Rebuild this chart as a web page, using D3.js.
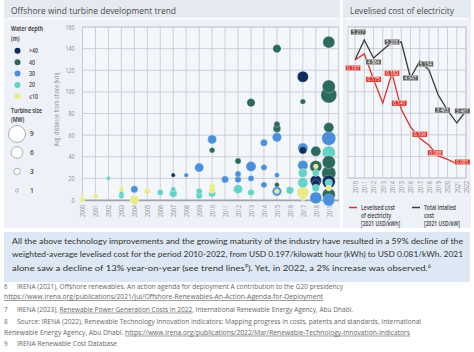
<!DOCTYPE html>
<html>
<head>
<meta charset="utf-8">
<script src="https://cdn.jsdelivr.net/npm/d3@7"></script>
<style>
body { margin: 0; background: #fff; }
svg { display: block; font-family: "Open Sans", sans-serif; }
</style>
</head>
<body>
<script>
// ---- data ----
const years = [2000, 2001, 2002, 2003, 2004, 2005, 2006, 2007, 2008, 2009,
    2010, 2011, 2012, 2013, 2014, 2015, 2016, 2017, 2018, 2019]
const distTicks = [0, 20, 40, 60, 80, 100, 120, 140, 160]
const depthClasses = [">40", "40", "30", "20", "≤10"]
const depthColors = ["#0c2f60", "#2c6a5e", "#4a8fdc", "#63d3c7", "#e8eb88"]
const sizeLegend = [9, 6, 3, 1]

// [year, avg. distance from shore (km), water depth class, turbine size (MW)]
const turbines = [
    [2000, 0, "≤10", 2.1], [2000, 4, "≤10", 1.2], [2001, 3.5, "≤10", 2.1],
    [2002, 20, "20", 1.6],
    [2003, 10, "≤10", 2.1], [2003, 6, "20", 1.8], [2003, 4, "20", 2.4],
    [2004, 10, "30", 3.3], [2004, 0, "≤10", 4.4],
    [2005, 8, "≤10", 2.7], [2006, 7, "20", 2.7],
    [2007, 23, ">40", 1.6], [2007, 10, "20", 2.1], [2007, 6, "20", 3.6],
    [2008, 23, "30", 1.8],
    [2009, 30, "30", 4.4], [2009, 8, "20", 2.7], [2009, 4, "20", 2.9],
    [2010, 56, "30", 4.4], [2010, 46, "40", 2.4], [2010, 12, "≤10", 2.9], [2010, 9, "≤10", 2.9], [2010, 6, "20", 3.3],
    [2011, 19, "30", 3.3],
    [2012, 36, "40", 2.7], [2012, 24, "30", 2.7], [2012, 19, "30", 2.9], [2012, 10, "20", 4.4],
    [2013, 90, "40", 4.0], [2013, 31, "30", 5.0], [2013, 20, "30", 2.7], [2013, 7, "20", 2.9],
    [2014, 53, "30", 3.3], [2014, 30, "30", 2.7], [2014, 14, "30", 2.7],
    [2015, 140, "40", 4.0], [2015, 70, "40", 2.7], [2015, 66, "40", 3.6], [2015, 58, "30", 4.6],
    [2015, 23, "30", 2.1], [2015, 14, "40", 2.1], [2015, 8, "30", 4.6], [2015, 8, "≤10", 2.1],
    [2016, 9, "20", 3.6],
    [2017, 114, ">40", 5.6], [2017, 91, "40", 2.4], [2017, 48, "30", 5.0], [2017, 46, ">40", 3.6],
    [2017, 32, "30", 5.0], [2017, 25, "20", 4.4], [2017, 16, "20", 5.0], [2017, 7, "≤10", 6.1], [2017, 2, "≤10", 2.7],
    [2018, 45, "40", 5.0], [2018, 31, "40", 6.1], [2018, 31, "≤10", 2.1], [2018, 25, "20", 3.3],
    [2018, 18, ">40", 5.6], [2018, 15, ">40", 4.0], [2018, 11, "20", 3.6], [2018, 2, "30", 6.1],
    [2019, 146, "40", 6.1], [2019, 105, "40", 6.7], [2019, 97, "40", 8.4], [2019, 67, "40", 5.0],
    [2019, 57, "30", 7.3], [2019, 44, "20", 6.7], [2019, 35, "40", 6.7], [2019, 25, "40", 7.3],
    [2019, 17, ">40", 6.7], [2019, 16, "20", 3.6], [2019, 11, "≤10", 2.7], [2019, 5, "40", 6.7], [2019, 0, "30", 6.1]
]

const costYears = [2010, 2011, 2012, 2013, 2014, 2015, 2016, 2017, 2018, 2019, 2020, 2021, 2022]
const lcoe = [0.197, 0.204, 0.175, 0.148, 0.182, 0.141, 0.121, 0.108, 0.100, 0.088, 0.084, 0.079, 0.081]
const installedCost = [4722, 5217, 4772, 4970, 5168, 5168, 4277, 4698, 4475, 3857, 3483, 3164, 3461]
const lcoeLabels = [[2010, "0.197"], [2012, "0.175"], [2014, "0.182"], [2015, "0.141"], [2017, "0.106"], [2019, "0.088"], [2022, "0.081"]]
const costLabels = [[2011, "5 217"], [2012, "4 884"], [2014, "5 208"], [2016, "4 647"], [2017, "5 134"], [2020, "3 483"], [2022, "3 461"]]

const paragraph = [
    [["All the above technology improvements and the growing maturity of the industry have resulted in a 59% decline of the"]],
    [["weighted-average levelised cost for the period 2010-2022, from USD 0.197/kilowatt hour (kWh) to USD 0.081/kWh. 2021"]],
    [["alone saw a decline of 13% year-on-year (see trend lines"], ["9", "sup"], ["). Yet, in 2022, a 2% increase was observed."], ["6", "sup"]]
]
const footnotes = [
    ["6", [["IRENA (2021), Offshore renewables. An action agenda for deployment A contribution to the G20 presidency"]]],
    ["", [["https://www.irena.org/publications/2021/Jul/Offshore-Renewables-An-Action-Agenda-for-Deployment", "u"]]],
    ["7", [["IRENA (2023), "], ["Renewable Power Generation Costs in 2022", "u"], [", International Renewable Energy Agency, Abu Dhabi."]]],
    ["8", [["Source: IRENA (2022), Renewable Technology Innovation Indicators: Mapping progress in costs, patents and standards, International"]]],
    ["", [["Renewable Energy Agency, Abu Dhabi. "], ["https://www.irena.org/publications/2022/Mar/Renewable-Technology-Innovation-Indicators", "u"]]],
    ["9", [["IRENA Renewable Cost Database"]]]
]

// ---- drawing ----
const W = 474, H = 352
const svg = d3.select("body").append("svg").attr("width", W).attr("height", H)

const fit = (sel, w) => sel.attr("textLength", w).attr("lengthAdjust", "spacingAndGlyphs")
const squeeze = (sel, k) => sel.each(function () {
    const l = this.getComputedTextLength()
    d3.select(this).attr("textLength", l * k).attr("lengthAdjust", "spacingAndGlyphs")
})

// panels
const panels = [{x: 4, w: 336, title: "Offshore wind turbine development trend", tw: 165},
    {x: 343, w: 128, title: "Levelised cost of electricity", tw: 104}]
panels.forEach(p => {
    svg.append("rect").attr("x", p.x).attr("y", 0).attr("width", p.w).attr("height", 228).attr("fill", "#eef2f8")
    svg.append("rect").attr("x", p.x).attr("y", 0).attr("width", p.w).attr("height", 18).attr("fill", "#e5eaf1")
    svg.append("line").attr("x1", p.x + 3).attr("x2", p.x + p.w - 3).attr("y1", 18.5).attr("y2", 18.5)
        .attr("stroke", "#fff").attr("stroke-width", 1.5)
    svg.append("text").attr("x", p.x + 7).attr("y", 14).attr("font-size", 9.5).attr("fill", "#4d4d4d")
        .text(p.title).call(fit, p.tw)
})

// ===== left chart =====
const xL = d3.scaleLinear().domain([2000, 2019.75]).range([82.5, 338.5])
const yL = d3.scaleLinear().domain([0, 160]).range([200, 27])
const rL = d3.scaleLinear().domain([1, 9]).range([1.5, 8.5])
const color = d3.scaleOrdinal().domain(depthClasses).range(depthColors)

const gL = svg.append("g")
gL.append("rect").attr("x", xL(2000)).attr("y", yL(160)).attr("width", xL(2019.75) - xL(2000))
    .attr("height", yL(0) - yL(160)).attr("fill", "#f3f6fa").attr("stroke", "#c3c8cf").attr("stroke-width", 0.8)
gL.selectAll(".hgrid").data(distTicks).join("line").attr("class", "hgrid")
    .attr("x1", xL(2000)).attr("x2", xL(2019.75)).attr("y1", d => yL(d)).attr("y2", d => yL(d))
    .attr("stroke", "#c3c8cf").attr("stroke-width", 0.8)
gL.selectAll(".vgrid").data(years).join("line").attr("class", "vgrid")
    .attr("x1", d => xL(d)).attr("x2", d => xL(d)).attr("y1", yL(160)).attr("y2", yL(0))
    .attr("stroke", "#c3c8cf").attr("stroke-width", 0.8)

const yAxis = gL.append("g").attr("transform", `translate(${xL(2000)},0)`)
    .call(d3.axisLeft(yL).tickValues(distTicks).tickSize(0).tickPadding(8))
yAxis.select(".domain").remove()
yAxis.selectAll("text").attr("font-family", "Open Sans").attr("font-size", 6.5).attr("fill", "#8c8c8c").call(squeeze, 0.8)

const xAxis = gL.append("g").attr("transform", `translate(0,${yL(0)})`)
    .call(d3.axisBottom(xL).tickValues(years).tickFormat(d3.format("d")).tickSize(0))
xAxis.select(".domain").attr("stroke", "#9ea4ab").attr("stroke-width", 1.6)
xAxis.selectAll("text").attr("font-family", "Open Sans").attr("font-size", 6.5).attr("fill", "#8c8c8c")
    .attr("transform", "rotate(-90)").attr("text-anchor", "end").attr("x", -5).attr("y", 0).attr("dy", "0.35em")
    .call(squeeze, 0.8)

gL.append("text").attr("transform", `translate(59,${(yL(0) + yL(160)) / 2 - 4}) rotate(-90)`)
    .attr("text-anchor", "middle").attr("font-size", 6.5).attr("fill", "#8c8c8c")
    .text("Avg. distance from shore (km)").call(squeeze, 0.82)

gL.selectAll(".bubble")
    .data(turbines.slice().sort((a, b) => b[3] - a[3]))
    .join("circle").attr("class", "bubble")
    .attr("cx", d => xL(d[0])).attr("cy", d => yL(d[1])).attr("r", d => rL(d[3]))
    .attr("fill", d => color(d[2]))
    .attr("stroke", "#fff").attr("stroke-opacity", 0.45).attr("stroke-width", 0.6)

// legend
const lg = svg.append("g").attr("fill", "#4a4a4a").attr("font-weight", 700).attr("font-size", 6.6)
lg.append("text").attr("x", 11).attr("y", 31).text("Water depth").call(squeeze, 0.78)
lg.append("text").attr("x", 11).attr("y", 40.5).text("(m)").call(squeeze, 0.78)
const depthY = d3.scalePoint().domain(depthClasses).range([50.7, 96.5])
depthClasses.forEach(c => {
    lg.append("circle").attr("cx", 17.5).attr("cy", depthY(c)).attr("r", 3).attr("fill", color(c))
    lg.append("text").attr("x", 29).attr("y", depthY(c) + 2.4).attr("font-weight", 600).text(c).call(squeeze, 0.8)
})
lg.append("text").attr("x", 11).attr("y", 112.5).text("Turbine size").call(squeeze, 0.78)
lg.append("text").attr("x", 11).attr("y", 122).text("(MW)").call(squeeze, 0.78)
const sizeY = d3.scaleOrdinal().domain(sizeLegend).range([134, 152.5, 171.5, 190.5])
sizeLegend.forEach(s => {
    lg.append("circle").attr("cx", 17).attr("cy", sizeY(s)).attr("r", rL(s))
        .attr("fill", "#fff").attr("stroke", "#8a8f96").attr("stroke-width", 0.7)
    lg.append("text").attr("x", 30).attr("y", sizeY(s) + 2.4).attr("font-weight", 600).text(s)
})

// ===== right chart =====
const xR = d3.scaleLinear().domain([2010, 2022]).range([355, 466])
const rowY = d3.scaleLinear().domain([0, 7]).range([178, 27])
const yLcoe = d3.scaleLinear().domain([0.081, 0.197]).range([162, 60])
const yCost = d3.scaleLinear().domain([3461, 5217]).range([111, 40])
const plotLeft = 348

const gR = svg.append("g")
gR.append("rect").attr("x", plotLeft).attr("y", rowY(7)).attr("width", xR(2022) - plotLeft)
    .attr("height", rowY(0) - rowY(7)).attr("fill", "#f3f6fa").attr("stroke", "#c3c8cf").attr("stroke-width", 0.8)
gR.selectAll(".hgrid").data(d3.range(8)).join("line").attr("class", "hgrid")
    .attr("x1", plotLeft).attr("x2", xR(2022)).attr("y1", d => rowY(d)).attr("y2", d => rowY(d))
    .attr("stroke", "#c3c8cf").attr("stroke-width", 0.8)
gR.selectAll(".vgrid").data(costYears).join("line").attr("class", "vgrid")
    .attr("x1", d => xR(d)).attr("x2", d => xR(d)).attr("y1", rowY(7)).attr("y2", rowY(0))
    .attr("stroke", "#c3c8cf").attr("stroke-width", 0.8)

const xAxisR = gR.append("g").attr("transform", `translate(0,${rowY(0)})`)
    .call(d3.axisBottom(xR).tickValues(costYears).tickFormat(d3.format("d")).tickSize(0))
xAxisR.select(".domain").remove()
xAxisR.selectAll("text").attr("font-family", "Open Sans").attr("font-size", 6.5).attr("fill", "#8c8c8c")
    .attr("transform", "rotate(-90)").attr("text-anchor", "end").attr("x", -3).attr("y", 0).attr("dy", "0.35em")
    .call(squeeze, 0.8)

const costLine = d3.line().x((d, i) => xR(costYears[i])).y(d => yCost(d))
const lcoeLine = d3.line().x((d, i) => xR(costYears[i])).y(d => yLcoe(d))
gR.append("path").attr("d", costLine(installedCost)).attr("fill", "none").attr("stroke", "#3a3a3a").attr("stroke-width", 1.3)
gR.append("path").attr("d", lcoeLine(lcoe)).attr("fill", "none").attr("stroke", "#d9342b").attr("stroke-width", 1.3)

// value tags; small nudges so they sit like in the original
const nudge = {"0.197": [-2, 8], "0.141": [-2, -6], "0.106": [0, -4], "0.088": [-3, -3],
    "5 217": [-6, -8], "4 884": [0, 4], "5 134": [6, 3], "3 483": [-5, 0]}
function tags(list, values, scale, fill) {
    list.forEach(([yr, label]) => {
        const v = values[costYears.indexOf(yr)]
        const [dx, dy] = nudge[label] || [0, 0]
        const g = gR.append("g")
        const t = g.append("text").attr("font-size", 4.8).attr("fill", "#fff").attr("text-anchor", "middle")
            .attr("dy", "0.35em").text(label)
        const w = t.node().getComputedTextLength() + 3
        let cx = xR(yr) + dx
        cx = Math.max(344 + w / 2, Math.min(470 - w / 2, cx))
        const cy = scale(v) + dy
        g.insert("rect", "text").attr("x", -w / 2).attr("y", -2.8).attr("width", w).attr("height", 5.6)
            .attr("fill", fill).attr("stroke", "#fff").attr("stroke-width", 0.4)
        g.attr("transform", `translate(${cx},${cy})`)
    })
}
tags(costLabels, installedCost, yCost, "#5a5a5a")
tags(lcoeLabels, lcoe, yLcoe, "#d9342b")

// right legend
const rl = svg.append("g").attr("font-size", 6.3).attr("font-weight", 600).attr("fill", "#3d3d3d")
const legItems = [{x: 349, c: "#d9342b", lines: ["Levelised cost", "of electricity", "[2021 USD/kWh]"]},
    {x: 412, c: "#3a3a3a", lines: ["Total intalled", "cost", "[2021 USD/kW]"]}]
legItems.forEach(it => {
    rl.append("line").attr("x1", it.x).attr("x2", it.x + 8).attr("y1", 207.5).attr("y2", 207.5)
        .attr("stroke", it.c).attr("stroke-width", 1.5)
    it.lines.forEach((s, i) => rl.append("text").attr("x", it.x + 12).attr("y", 209.5 + i * 8.4).text(s).call(squeeze, 0.8))
})

// ===== text box =====
svg.append("rect").attr("x", 4).attr("y", 232).attr("width", 466).attr("height", 50).attr("fill", "#dde8f4")
const paraW = [451, 451, 419]
paragraph.forEach((parts, i) => {
    const t = svg.append("text").attr("x", 12).attr("y", 244 + i * 13.4)
        .attr("font-family", "Lato, 'Open Sans', sans-serif").attr("font-size", 8.4).attr("fill", "#333")
    parts.forEach(([s, kind]) => {
        const sp = t.append("tspan").text(s)
        if (kind === "sup") sp.attr("font-size", 5).attr("baseline-shift", "super")
    })
    t.call(fit, paraW[i])
})

// ===== footnotes =====
const fnY = [289, 299.3, 311.7, 324, 334.7, 345.7]
const fnX = [17, 4, 17, 17, 4, 17]
const fnW = [326, 319, 336, 404, 406, 100]
footnotes.forEach(([num, parts], i) => {
    if (num) svg.append("text").attr("x", 4).attr("y", fnY[i]).attr("font-size", 6.2).attr("fill", "#666").text(num)
    const t = svg.append("text").attr("x", fnX[i]).attr("y", fnY[i]).attr("font-size", 6.2).attr("fill", "#666")
    parts.forEach(([s, kind]) => {
        const sp = t.append("tspan").text(s)
        if (kind === "u") sp.attr("text-decoration", "underline")
    })
    t.call(fit, fnW[i])
})
</script>
</body>
</html>
